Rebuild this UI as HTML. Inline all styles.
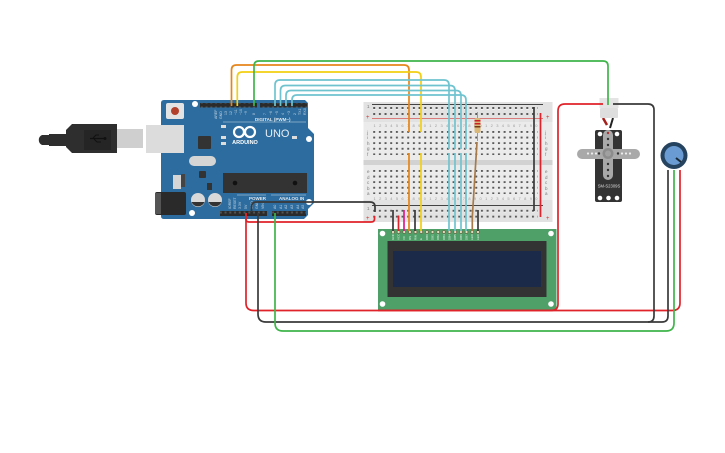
<!DOCTYPE html>
<html><head><meta charset="utf-8"><style>
html,body{margin:0;padding:0;background:#fff;width:725px;height:453px;overflow:hidden}
svg{display:block;font-family:"Liberation Sans",sans-serif}
</style></head><body>
<svg width="725" height="453" viewBox="0 0 725 453" xmlns="http://www.w3.org/2000/svg">
<defs>
<pattern id="h" x="373.2" y="0" width="5.67" height="5.6" patternUnits="userSpaceOnUse"><rect x="0" y="0" width="2" height="2" fill="#5a5a5a"/><rect x="-.5" y="2" width="3" height=".7" fill="#fff" opacity=".8"/></pattern>
<pattern id="r" x="373.2" y="0" width="5.67" height="6" patternUnits="userSpaceOnUse"><rect x="0" y="0" width="2" height="2" fill="#5a5a5a"/><rect x="-.5" y="2" width="3" height=".7" fill="#fff" opacity=".8"/></pattern>
<pattern id="p" width="4.75" height="5" patternUnits="userSpaceOnUse"><rect width="4.75" height="5" fill="#2b2b2b"/><rect x="1.300" y="1.500" width="2" height="2" fill="#555"/></pattern>
</defs>
<rect width="725" height="453" fill="#fff"/>

<!-- USB -->
<rect x="117" y="129" width="26" height="19" fill="#cfcfcf"/>
<path d="M66 130 L72 124 H117 V153 H72 L66 147 Z" fill="#2e2e2e"/>
<rect x="84" y="130" width="27" height="20" fill="#252525"/>
<path d="M66 134 H49 V135 H42 A5.500 5.500 0 0 0 42 145 H49 V146 H66 Z" fill="#2e2e2e"/>
<path d="M90 138.500 H106" stroke="#111" stroke-width="1.300"/><circle cx="105" cy="138.500" r="1.500" fill="#111"/>
<path d="M93 138 L96 135 H99 M94 139 L97 142 H101" stroke="#111" fill="none"/>

<!-- Arduino -->
<path d="M164 100 H305 L308 103 V128 L314 134 V203 L308 209 V215 L304 219 H164 Q161 219 161 216 V103 Q161 100 164 100 Z" fill="#2d6c9e"/>
<rect x="146" y="125" width="38" height="28" fill="#dcdcdc"/>
<rect x="166" y="103" width="18" height="16" rx="2" fill="#e3e3e3"/><circle cx="175" cy="111" r="4" fill="#b3402a"/>
<circle cx="195" cy="104" r="3" fill="#fff"/><circle cx="309" cy="139" r="3" fill="#fff"/><circle cx="309" cy="202" r="3" fill="#fff"/><circle cx="192" cy="213" r="3" fill="#fff"/>
<rect x="200" y="103" width="57" height="4.500" fill="url(#p)"/><rect x="260" y="103" width="47" height="4.500" fill="url(#p)"/>
<rect x="220" y="211" width="47" height="5" fill="url(#p)"/><rect x="272" y="211" width="34" height="5" fill="url(#p)"/>
<rect x="198" y="136" width="13" height="13" rx="1" fill="#333"/>
<rect x="189" y="156" width="27" height="10" rx="5" fill="#d5d5d5"/>
<rect x="199" y="171" width="7" height="7" rx="1" fill="#333"/>
<rect x="173" y="175" width="8" height="14" fill="#d5d5d5"/><rect x="181" y="174" width="4" height="13" fill="#444"/>
<rect x="207" y="183" width="5" height="7" fill="#333"/>
<rect x="223" y="173" width="84" height="20" fill="#333"/><circle cx="235" cy="183" r="2.300" fill="#111"/><circle cx="295" cy="183" r="2.300" fill="#111"/>
<rect x="155" y="192" width="31" height="23" rx="2" fill="#2a2a2a"/><rect x="155" y="193" width="6" height="21" fill="#555"/>
<circle cx="198" cy="200" r="7" fill="#d9d9d9"/><path d="M191.500 202 A7 7 0 0 0 204.500 202 Z" fill="#333"/>
<circle cx="215" cy="200" r="7" fill="#d9d9d9"/><path d="M208.500 202 A7 7 0 0 0 221.500 202 Z" fill="#333"/>
<circle cx="239" cy="132" r="5" fill="none" stroke="#fff" stroke-width="2.200"/><circle cx="250" cy="132" r="5" fill="none" stroke="#fff" stroke-width="2.200"/>
<text x="245" y="144" font-size="5.500" font-weight="bold" fill="#fff" text-anchor="middle">ARDUINO</text>
<text x="265" y="137" font-size="11" fill="#e8eef5">UNO</text>
<text x="255" y="121" font-size="4.500" font-weight="bold" fill="#dfe8f0">DIGITAL (PWM~)</text>
<path d="M223 122 H306" stroke="#cfe0ee" stroke-width=".6"/>
<text x="249" y="200" font-size="4.500" font-weight="bold" fill="#dfe8f0">POWER</text>
<text x="279" y="200" font-size="4.500" font-weight="bold" fill="#dfe8f0">ANALOG IN</text>
<path d="M237 195 H266 M271 195 H306" stroke="#cfe0ee" stroke-width=".6"/>
<rect x="221" y="125" width="5" height="3" fill="#ddd"/><rect x="221" y="136" width="5" height="3" fill="#ddd"/><rect x="221" y="142" width="5" height="3" fill="#ddd"/><rect x="292" y="136" width="5" height="3" fill="#ddd"/>
<g font-size="3.500" fill="#c5d6e4">
<text transform="translate(217,119) rotate(-90)">AREF</text><text transform="translate(222,119) rotate(-90)">GND</text><text transform="translate(227,115) rotate(-90)">13</text><text transform="translate(232,115) rotate(-90)">12</text><text transform="translate(237,115) rotate(-90)">~11</text><text transform="translate(242,115) rotate(-90)">~10</text><text transform="translate(247,115) rotate(-90)">~9</text><text transform="translate(255,115) rotate(-90)">8</text>
<text transform="translate(266,115) rotate(-90)">7</text><text transform="translate(272,115) rotate(-90)">~6</text><text transform="translate(278,115) rotate(-90)">~5</text><text transform="translate(284,115) rotate(-90)">4</text><text transform="translate(290,115) rotate(-90)">~3</text><text transform="translate(296,115) rotate(-90)">2</text><text transform="translate(301,115) rotate(-90)">TX1</text><text transform="translate(306,115) rotate(-90)">RX0</text>
<text transform="translate(231,209) rotate(-90)">IOREF</text><text transform="translate(236,209) rotate(-90)">RESET</text><text transform="translate(241,209) rotate(-90)">3.3V</text><text transform="translate(247,209) rotate(-90)">5V</text><text transform="translate(253,209) rotate(-90)">GND</text><text transform="translate(258,209) rotate(-90)">GND</text><text transform="translate(264,209) rotate(-90)">VIN</text>
<text transform="translate(276,209) rotate(-90)">A0</text><text transform="translate(282,209) rotate(-90)">A1</text><text transform="translate(287,209) rotate(-90)">A2</text><text transform="translate(293,209) rotate(-90)">A3</text><text transform="translate(299,209) rotate(-90)">A4</text><text transform="translate(304,209) rotate(-90)">A5</text>
</g>

<!-- Breadboard -->
<rect x="363.500" y="102" width="189" height="120" fill="#e2e2e2"/>
<rect x="363.500" y="122" width="189" height="78" fill="#ebebeb"/>
<rect x="363.500" y="160" width="189" height="5" fill="#d2d2d2"/>
<path d="M372 104.500 H543 M372 205.500 H543" stroke="#444" stroke-width="1"/>
<path d="M372 118.500 H543" stroke="#d97b7b" stroke-width="1"/>
<rect x="373" y="0" width="165" height="8" fill="url(#r)" transform="translate(0,107)"/>
<rect x="373" y="0" width="165" height="8" fill="url(#r)" transform="translate(0,209.700)"/>
<rect x="373" y="0" width="165" height="24" fill="url(#h)" transform="translate(0,131)"/>
<rect x="373" y="0" width="165" height="24" fill="url(#h)" transform="translate(0,170)"/>
<g font-size="4.500" fill="#777">
<text x="367" y="108">1</text><text x="366" y="119" fill="#c33" font-size="6">+</text><text x="367" y="210">1</text><text x="366" y="220" fill="#c33" font-size="6">+</text>
<text x="546" y="119" fill="#c33" font-size="6">+</text><text x="546" y="220" fill="#c33" font-size="6">+</text>
<text x="373.500" y="127" font-size="4" fill="#9a9a9a" textLength="164" lengthAdjust="spacing">123456789012345678901234567890</text>
<text x="373.500" y="200" font-size="4" fill="#9a9a9a" textLength="164" lengthAdjust="spacing">123456789012345678901234567890</text>
<text x="367" y="134">j</text><text x="367" y="139">i</text><text x="367" y="145">h</text><text x="367" y="150">g</text><text x="367" y="156">f</text>
<text x="367" y="173">e</text><text x="367" y="179">d</text><text x="367" y="184">c</text><text x="367" y="190">b</text><text x="367" y="195">a</text>
<text x="545" y="134">j</text><text x="545" y="139">i</text><text x="545" y="145">h</text><text x="545" y="150">g</text><text x="545" y="156">f</text>
<text x="545" y="173">e</text><text x="545" y="179">d</text><text x="545" y="184">c</text><text x="545" y="190">b</text><text x="545" y="195">a</text>
</g>

<!-- LCD -->
<rect x="378" y="229" width="178.500" height="81.500" fill="#4fa068"/>
<rect x="387.500" y="241" width="159" height="56" fill="#333"/>
<rect x="393" y="251" width="148" height="36" fill="#1b2a49"/>
<circle cx="382.500" cy="233.500" r="2.800" fill="#fff"/><circle cx="551" cy="233.500" r="2.800" fill="#fff"/><circle cx="382.500" cy="304" r="2.800" fill="#fff"/><circle cx="551" cy="304" r="2.800" fill="#fff"/>
<g fill="#e6dcc0" stroke="#6b6b4a" stroke-width=".7">
<circle cx="393" cy="232" r="1.500"/><circle cx="398.600" cy="232" r="1.500"/><circle cx="404.200" cy="232" r="1.500"/><circle cx="409.900" cy="232" r="1.500"/><circle cx="415.500" cy="232" r="1.500"/><circle cx="421.200" cy="232" r="1.500"/><circle cx="426.900" cy="232" r="1.500"/><circle cx="432.500" cy="232" r="1.500"/><circle cx="438.200" cy="232" r="1.500"/><circle cx="443.900" cy="232" r="1.500"/><circle cx="449.500" cy="232" r="1.500"/><circle cx="455.200" cy="232" r="1.500"/><circle cx="460.900" cy="232" r="1.500"/><circle cx="466.500" cy="232" r="1.500"/><circle cx="472.200" cy="232" r="1.500"/><circle cx="478" cy="232" r="1.500"/>
</g>
<g font-size="3" fill="#e6f0e8">
<text transform="translate(394,240) rotate(-90)">GND</text><text transform="translate(399.500,240) rotate(-90)">VCC</text><text transform="translate(405,240) rotate(-90)">V0</text><text transform="translate(411,240) rotate(-90)">RS</text><text transform="translate(416.500,240) rotate(-90)">RW</text><text transform="translate(422,240) rotate(-90)">E</text><text transform="translate(428,240) rotate(-90)">DB0</text><text transform="translate(433.500,240) rotate(-90)">DB1</text><text transform="translate(439,240) rotate(-90)">DB2</text><text transform="translate(445,240) rotate(-90)">DB3</text><text transform="translate(450.500,240) rotate(-90)">DB4</text><text transform="translate(456,240) rotate(-90)">DB5</text><text transform="translate(462,240) rotate(-90)">DB6</text><text transform="translate(467.500,240) rotate(-90)">DB7</text><text transform="translate(473,240) rotate(-90)">LED</text><text transform="translate(479,240) rotate(-90)">LED</text>
</g>

<!-- Resistor -->
<path d="M477.500 112 V141" stroke="#999" stroke-width="1"/>
<rect x="474.500" y="118" width="6" height="15" rx="2" fill="#d9b878"/>
<rect x="474.500" y="120" width="6" height="1.500" fill="#c22"/><rect x="474.500" y="123" width="6" height="1.500" fill="#c22"/><rect x="474.500" y="126" width="6" height="1.500" fill="#7a3a10"/>

<!-- Servo -->
<rect x="595" y="130" width="27" height="72" rx="2" fill="#333"/>
<rect x="577" y="149" width="63" height="10" rx="5" fill="#a9a9a9"/>
<rect x="603" y="130" width="10" height="50" rx="5" fill="#a9a9a9"/>
<circle cx="608" cy="153.500" r="5.500" fill="#8c8c8c"/><circle cx="608" cy="153.500" r="3" fill="#a0a0a0"/>
<g fill="#333"><circle cx="608" cy="133" r="1.200" fill="#a33"/><circle cx="608" cy="139" r="1.200"/><circle cx="608" cy="145" r="1.200"/><circle cx="608" cy="164" r="1.200"/><circle cx="608" cy="170" r="1.200"/><circle cx="608" cy="176" r="1.200"/><circle cx="599" cy="153.500" r="1.200"/><circle cx="618" cy="153.500" r="1.200"/></g>
<g fill="#eee"><circle cx="588" cy="153.500" r="1.100"/><circle cx="592" cy="153.500" r="1.100"/><circle cx="596" cy="153.500" r="1.100"/><circle cx="622" cy="153.500" r="1.100"/><circle cx="626" cy="153.500" r="1.100"/><circle cx="630" cy="153.500" r="1.100"/></g>
<circle cx="600" cy="134" r="2.300" fill="#fff"/><circle cx="617" cy="134" r="2.300" fill="#fff"/><circle cx="600" cy="198" r="2.300" fill="#fff"/><circle cx="608.500" cy="198" r="2.300" fill="#fff"/><circle cx="617" cy="198" r="2.300" fill="#fff"/>
<text x="609" y="187.500" font-size="4.200" fill="#ddd" text-anchor="middle">SM-S2309S</text>
<path d="M603 118 L607 125" stroke="#a5201c" stroke-width="2.500"/><path d="M613 118 L610 128" stroke="#222" stroke-width="2"/>
<rect x="599.500" y="98" width="19" height="10" fill="#e4e4e4"/><rect x="600" y="108" width="18" height="10" rx="1" fill="#dedede"/>

<!-- Pot -->
<circle cx="674" cy="155.500" r="13.500" fill="#25425f"/><circle cx="674" cy="155.500" r="9.500" fill="#6a9bd2"/>
<path d="M676 158 L681 162" stroke="#1b2a36" stroke-width="2"/>

<!-- Wires -->
<g fill="none" stroke-width="1.700" stroke-linejoin="round">
<path d="M231.500 106 V70 Q231.500 65 236.500 65 H404 Q409 65 409 70 V132 M409 153 V231" stroke="#e6851a"/>
<path d="M237.300 106 V77 Q237.300 72 242.300 72 H416 Q421 72 421 77 V132 M421 153 V231" stroke="#f2cf12"/>
<path d="M254 106 V66 Q254 61 259 61 H603 Q608 61 608 66 V105" stroke="#3fb54a"/>
<path d="M275 106 V85 Q275 80 280 80 H444 Q449 80 449 85 V149 M449 153 V231" stroke="#6fc3cf"/>
<path d="M280.500 106 V90.500 Q280.500 85.500 285.500 85.500 H450 Q455 85.500 455 90.500 V149 M455 153 V231" stroke="#6fc3cf"/>
<path d="M286 106 V95.500 Q286 90.500 291 90.500 H456 Q461 90.500 461 95.500 V149 M461 153 V231" stroke="#6fc3cf"/>
<path d="M292 106 V100 Q292 95 297 95 H461 Q466 95 466 100 V149 M466 153 V231" stroke="#6fc3cf"/>
<path d="M534 107 V211" stroke="#3a3a3a"/>
<path d="M540.500 113 V217" stroke="#e0232a"/>
<path d="M393 210 V231 M415 210 V231 M478 210 V231" stroke="#3a3a3a"/>
<path d="M398.500 215.500 V231" stroke="#e0232a"/>
<path d="M404 210 V231" stroke="#e01a8f"/>
<path d="M477 142 L472.300 217 V231" stroke="#a87a4a"/>
<path d="M251.500 212 V207 Q251.500 202 256.500 202 H370 Q375 202 375 207 V212" stroke="#3a3a3a"/>
<path d="M246 213 V219 Q246 222 249 222 H371 Q374.500 222 374.500 219 V216" stroke="#e0232a"/>
<path d="M246 213 V303 Q246 310.500 254 310.500 H672 Q680 310.500 680 303 V170" stroke="#e0232a"/>
<path d="M258 213 V314 Q258 322 266 322 H662 Q668 322 668 316 V170" stroke="#3a3a3a"/>
<path d="M275 213 V323 Q275 331 283 331 H666 Q674 331 674 323 V170" stroke="#3fb54a"/>
<path d="M603 104 H565 Q558 104 558 111 V304 Q558 310.500 551 310.500 H378" stroke="#e0232a"/>
<path d="M613 104 H648 Q654 104 654 110 V316 Q654 322 648 322" stroke="#3a3a3a"/>
</g>
</svg>
</body></html>
